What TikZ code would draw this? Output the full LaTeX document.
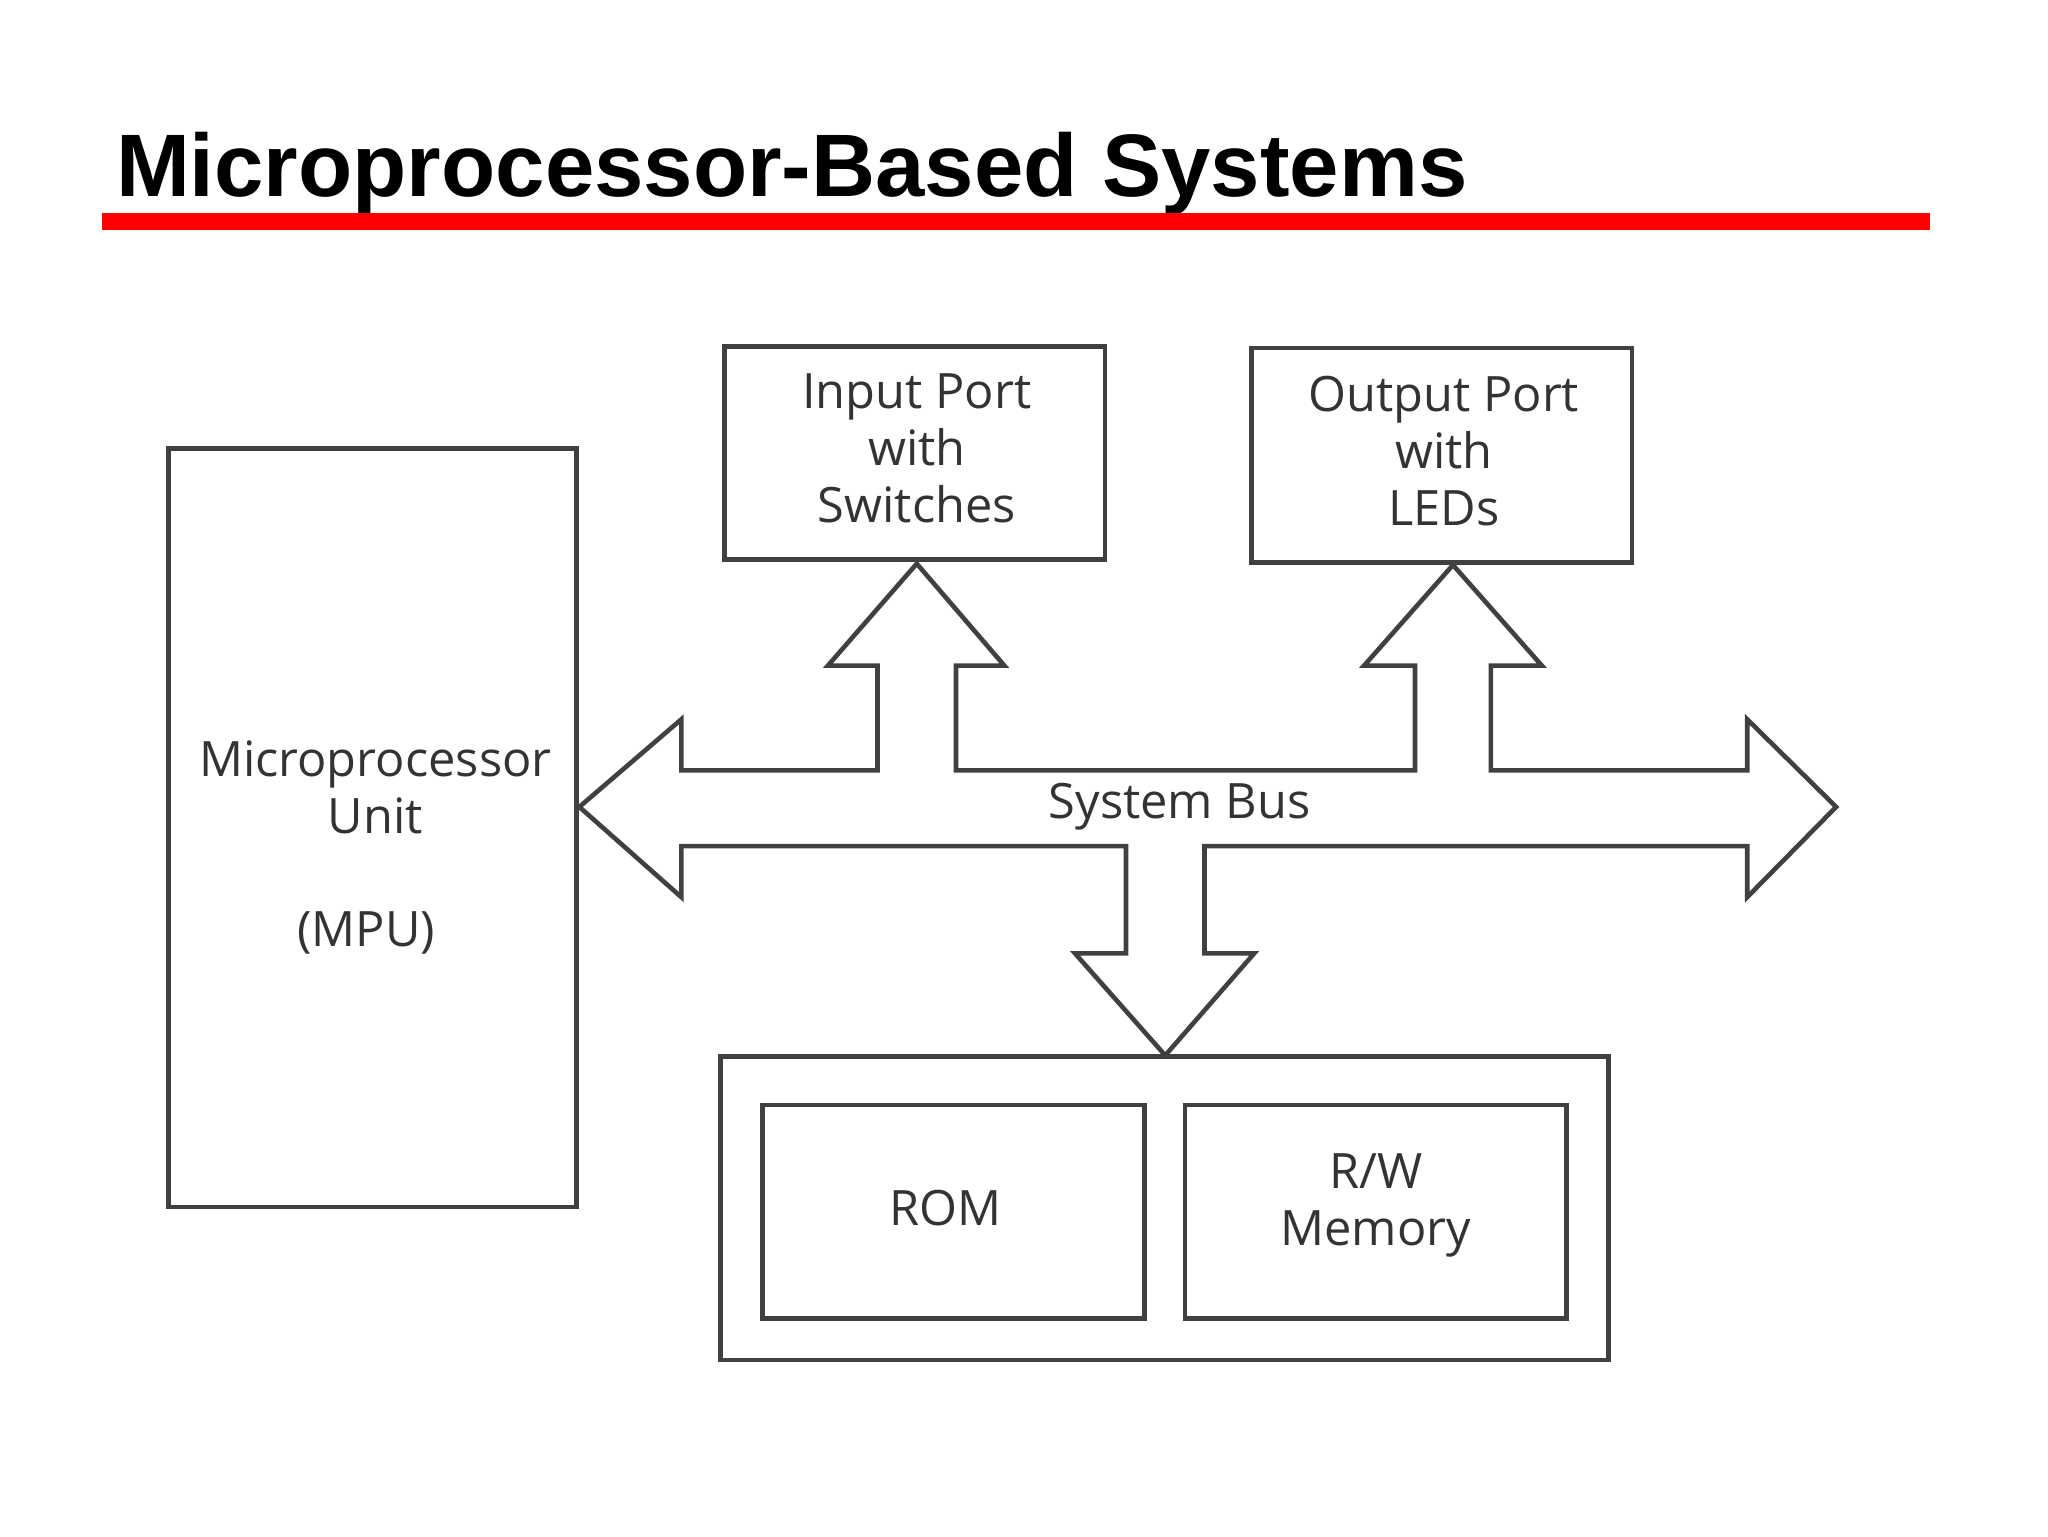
\documentclass[tikz,border=0pt]{standalone}
\usepackage{fontspec}
\setmainfont{Open Sans}
\newfontfamily\titlefont{Liberation Sans}
\begin{document}
\begin{tikzpicture}[x=0.01cm, y=-0.01cm,
    box/.style={draw=black!75, line width=1pt},
    lbl/.style={align=center, font=\fontsize{10.6}{12.4}\selectfont, text=black!80}]
    \useasboundingbox (0,0) rectangle (1566,1175);
    % title
    \node[anchor=base west, inner sep=0pt, font=\titlefont\bfseries\fontsize{19.3}{19.3}\selectfont] (title) at (88,150) {Microprocessor-Based Systems};
    \fill[red] (78,163) rectangle (1476,176);
    % blocks
    \draw[box] (129,343) rectangle (441,923);
    \node[lbl] (mpu) at (287,602) {Microprocessor\\Unit};
    \node[lbl] (mpuabbr) at (280,713) {(MPU)};
    \draw[box] (554,265) rectangle (845,428);
    \node[lbl] (inport) at (701,343) {Input Port\\with\\Switches};
    \draw[box] (957,266) rectangle (1248,430);
    \node[lbl] (outport) at (1104,345) {Output Port\\with\\LEDs};
    \draw[box] (551,808) rectangle (1230,1040);
    \draw[box] (583,845) rectangle (875,1008);
    \node[lbl] (rom) at (723,924) {ROM};
    \draw[box] (906,845) rectangle (1198,1008);
    \node[lbl] (rwmem) at (1052,922) {R/W\\Memory};
    % system bus
    \draw[box, line join=miter] (443,617) -- (521,550) -- (521,589) -- (671,589) -- (671,509)
        -- (633,509) -- (701,431) -- (768,509) -- (731,509) -- (731,589) -- (1082,589)
        -- (1082,509) -- (1043,509) -- (1111,432) -- (1179,509) -- (1140,509) -- (1140,589)
        -- (1336,589) -- (1336,550) -- (1404,617) -- (1336,686) -- (1336,647) -- (921,647)
        -- (921,729) -- (959,729) -- (891,807) -- (822,729) -- (861,729) -- (861,647)
        -- (521,647) -- (521,686) -- cycle;
    \node[lbl] (bus) at (902,617) {System Bus};
\end{tikzpicture}
\end{document}
